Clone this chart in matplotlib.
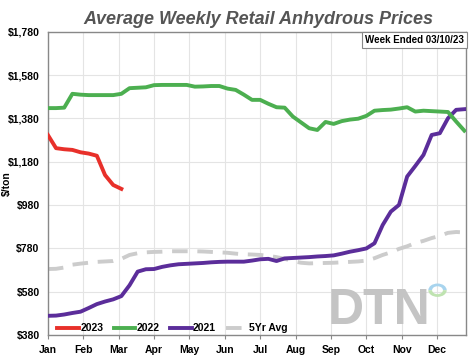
import matplotlib.pyplot as plt
from matplotlib.patches import Wedge

months = ["Jan", "Feb", "Mar", "Apr", "May", "Jun", "Jul", "Aug", "Sep", "Oct", "Nov", "Dec"]
y_ticks = [380, 580, 780, 980, 1180, 1380, 1580, 1780]

# weekly prices, $/ton
p2023 = [1304, 1243, 1238, 1235, 1224, 1218, 1208, 1119, 1073, 1055]
p2022 = [1428, 1428, 1430, 1494, 1490, 1488, 1488, 1488, 1488, 1494,
         1520, 1522, 1524, 1534, 1535, 1535, 1535, 1535, 1527, 1528,
         1530, 1530, 1518, 1512, 1490, 1466, 1466, 1448, 1432, 1430,
         1389, 1362, 1335, 1327, 1364, 1355, 1368, 1375, 1379, 1392,
         1416, 1419, 1421, 1426, 1432, 1412, 1416, 1414, 1412, 1410,
         1366, 1324]
p2021 = [469, 470, 475, 482, 488, 505, 523, 535, 545, 560,
         610, 673, 684, 685, 695, 702, 707, 709, 711, 713,
         716, 718, 719, 719, 719, 724, 730, 732, 722, 734,
         736, 738, 740, 743, 745, 748, 756, 765, 772, 780,
         804, 888, 950, 981, 1112, 1161, 1212, 1304, 1312, 1381,
         1420, 1423]
avg5 = [685, 686, 692, 705, 710, 714, 718, 720, 722, 732,
        750, 758, 762, 764, 765, 767, 767, 767, 767, 766,
        764, 762, 760, 756, 753, 752, 750, 746, 740, 732,
        722, 714, 711, 712, 713, 714, 716, 718, 720, 724,
        735, 750, 762, 778, 790, 805, 815, 828, 838, 852,
        856, 854]

plt.rcParams['font.family'] = ['Liberation Sans', 'DejaVu Sans']

fig = plt.figure(figsize=(4.74, 3.58), dpi=100)
ax = fig.add_axes([0.101, 0.064, 0.882, 0.847])

ax.plot(range(len(avg5)), avg5, color="#cccccc", lw=2.8, dashes=(4, 2.5), label="5Yr Avg", zorder=2)
ax.plot(range(len(p2021)), p2021, color="#5b2d9a", lw=2.8, label="2021", zorder=3)
ax.plot(range(len(p2022)), p2022, color="#4caf50", lw=2.8, label="2022", zorder=3)
ax.plot(range(len(p2023)), p2023, color="#e8302a", lw=2.8, label="2023", zorder=4)

ax.set_xlim(0, 51.2)
ax.set_ylim(380, 1780)
ax.set_xticks([i * 52 / 12 for i in range(12)])
ax.set_xticklabels(months, fontsize=7.5, fontweight="bold")
ax.set_yticks(y_ticks)
ax.set_yticklabels(["${:,}".format(v) for v in y_ticks], fontsize=7.5, fontweight="bold")
ax.tick_params(length=0, pad=6)
ax.tick_params(axis="x", length=3, color="#888888", direction="out", pad=4)
ax.grid(True, color="#e4e4e4", lw=0.8)
ax.set_axisbelow(True)
for s in ax.spines.values():
    s.set_color("#888888")
    s.set_linewidth(1.0)
ax.set_ylabel("$/ton", fontsize=7.5, fontweight="bold")
ax.yaxis.set_label_coords(-0.085, 0.5)

h, l = ax.get_legend_handles_labels()
order = [3, 2, 1, 0]
ax.legend([h[i] for i in order], [l[i] for i in order], loc="lower left", ncol=4, frameon=False,
          prop={"size": 7.5, "weight": "bold"}, handlelength=2.1, handletextpad=0.1,
          columnspacing=1.0, bbox_to_anchor=(0.0, -0.025))

fig.text(0.545, 0.945, "Average Weekly Retail Anhydrous Prices", ha="center", va="center",
         fontsize=13, fontweight="bold", style="italic", color="#555555")
ax.text(0.995, 0.99, "Week Ended 03/10/23", transform=ax.transAxes, ha="right", va="top",
        fontsize=7, fontweight="bold",
        bbox=dict(boxstyle="square,pad=0.3", fc="white", ec="#888888", lw=0.8))

# DTN logo
ax.text(0.67, 0.005, "DTN", transform=ax.transAxes, fontsize=36, fontweight="bold",
        color="#c4c4c4", ha="left", va="bottom", zorder=1)
ax.add_patch(Wedge((0.932, 0.148), 0.022, 0, 180, width=0.009, transform=ax.transAxes,
                   fc="#a8d4ee", ec="none", zorder=1))
ax.add_patch(Wedge((0.932, 0.148), 0.022, 180, 360, width=0.009, transform=ax.transAxes,
                   fc="#bfe3b0", ec="none", zorder=1))

fig.savefig("out.png", dpi=100)
